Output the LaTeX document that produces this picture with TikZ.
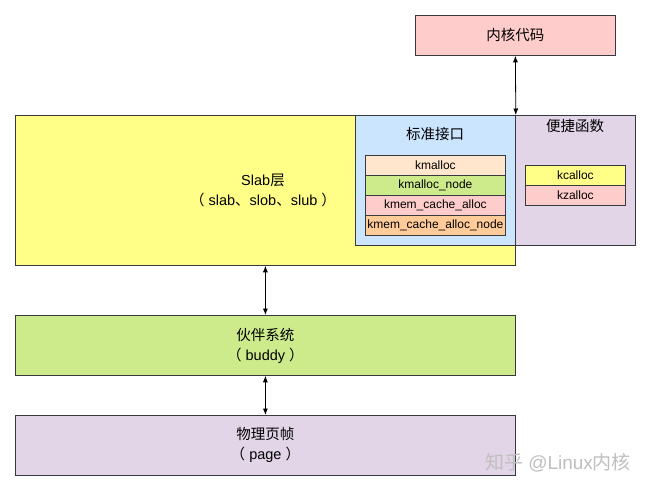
\documentclass[tikz,border=0pt]{standalone}
\usepackage{fontspec}
\setmainfont{Liberation Sans}
\newfontfamily\cjk{Noto Sans CJK SC}
\usetikzlibrary{arrows.meta}
\definecolor{bordc}{HTML}{36393D}
\definecolor{pinkc}{HTML}{FFCCCC}
\definecolor{yellowc}{HTML}{FFFF88}
\definecolor{bluec}{HTML}{CCE5FF}
\definecolor{purplec}{HTML}{E1D5E7}
\definecolor{greenc}{HTML}{CDEB8B}
\definecolor{peachc}{HTML}{FFE6CC}
\definecolor{orangec}{HTML}{FFCC99}
\tikzset{
  box/.style={draw=bordc, line width=0.8pt, inner sep=0pt, anchor=north west, font=\fontsize{14.5}{20}\selectfont, align=center},
  small/.style={box, minimum width=140pt, minimum height=20pt, font=\fontsize{12}{14}\selectfont},
  smallk/.style={box, minimum width=100pt, minimum height=20pt, font=\fontsize{12}{14}\selectfont},
  lbl/.style={font=\fontsize{14.5}{20}\selectfont, align=center, inner sep=0pt},
  dbl/.style={{Latex[length=6.5pt,width=5pt]}-{Latex[length=6.5pt,width=5pt]}, line width=0.8pt, black},
}
\begin{document}
\begin{tikzpicture}[x=1pt,y=-1pt]
\useasboundingbox (0,0) rectangle (651,491);
\fill[white] (0,0) rectangle (651,491);
\node[box, fill=pinkc, minimum width=200pt, minimum height=40pt] (code) at (415,15) {\cjk 内核代码};
\node[box, fill=yellowc, minimum width=500pt, minimum height=150pt] (slab) at (15,115) {};
\node[lbl] (slabt) at (263,190) {Slab{\cjk 层}\\{\cjk （} slab{\cjk 、}slob{\cjk 、}slub {\cjk ）}};
\node[box, fill=bluec, minimum width=160pt, minimum height=130pt] (std) at (355,115) {};
\node[lbl, font=\fontsize{14.5}{20}\selectfont\cjk] (stdt) at (435,134) {标准接口};
\node[box, fill=purplec, minimum width=120pt, minimum height=130pt] (conv) at (515,115) {};
\node[lbl, font=\fontsize{14.5}{20}\selectfont\cjk] (convt) at (575,126) {便捷函数};
\node[small, fill=peachc] (k1) at (365,155) {kmalloc};
\node[small, fill=greenc] (k2) at (365,175) {kmalloc\_node};
\node[small, fill=pinkc] (k3) at (365,195) {kmem\_cache\_alloc};
\node[small, fill=orangec] (k4) at (365,215) {kmem\_cache\_alloc\_node};
\node[smallk, fill=yellowc] (kc) at (525,165) {kcalloc};
\node[smallk, fill=pinkc] (kz) at (525,185) {kzalloc};
\node[box, fill=greenc, minimum width=500pt, minimum height=60pt] (buddy) at (15,315) {{\cjk 伙伴系统}\\{\cjk （} buddy {\cjk ）}};
\node[box, fill=purplec, minimum width=500pt, minimum height=60pt] (page) at (15,415) {{\cjk 物理页帧}\\{\cjk （} page {\cjk ）}};
\draw[dbl] (code.south) -- (slab.north east);
\draw[dbl] (slab.south) -- (buddy.north);
\draw[dbl] (buddy.south) -- (page.north);
\node[text=black!25, font=\fontsize{19}{22}\selectfont, inner sep=0pt] (wm) at (558,463) {{\cjk 知乎} @Linux{\cjk 内核}};
\end{tikzpicture}
\end{document}
